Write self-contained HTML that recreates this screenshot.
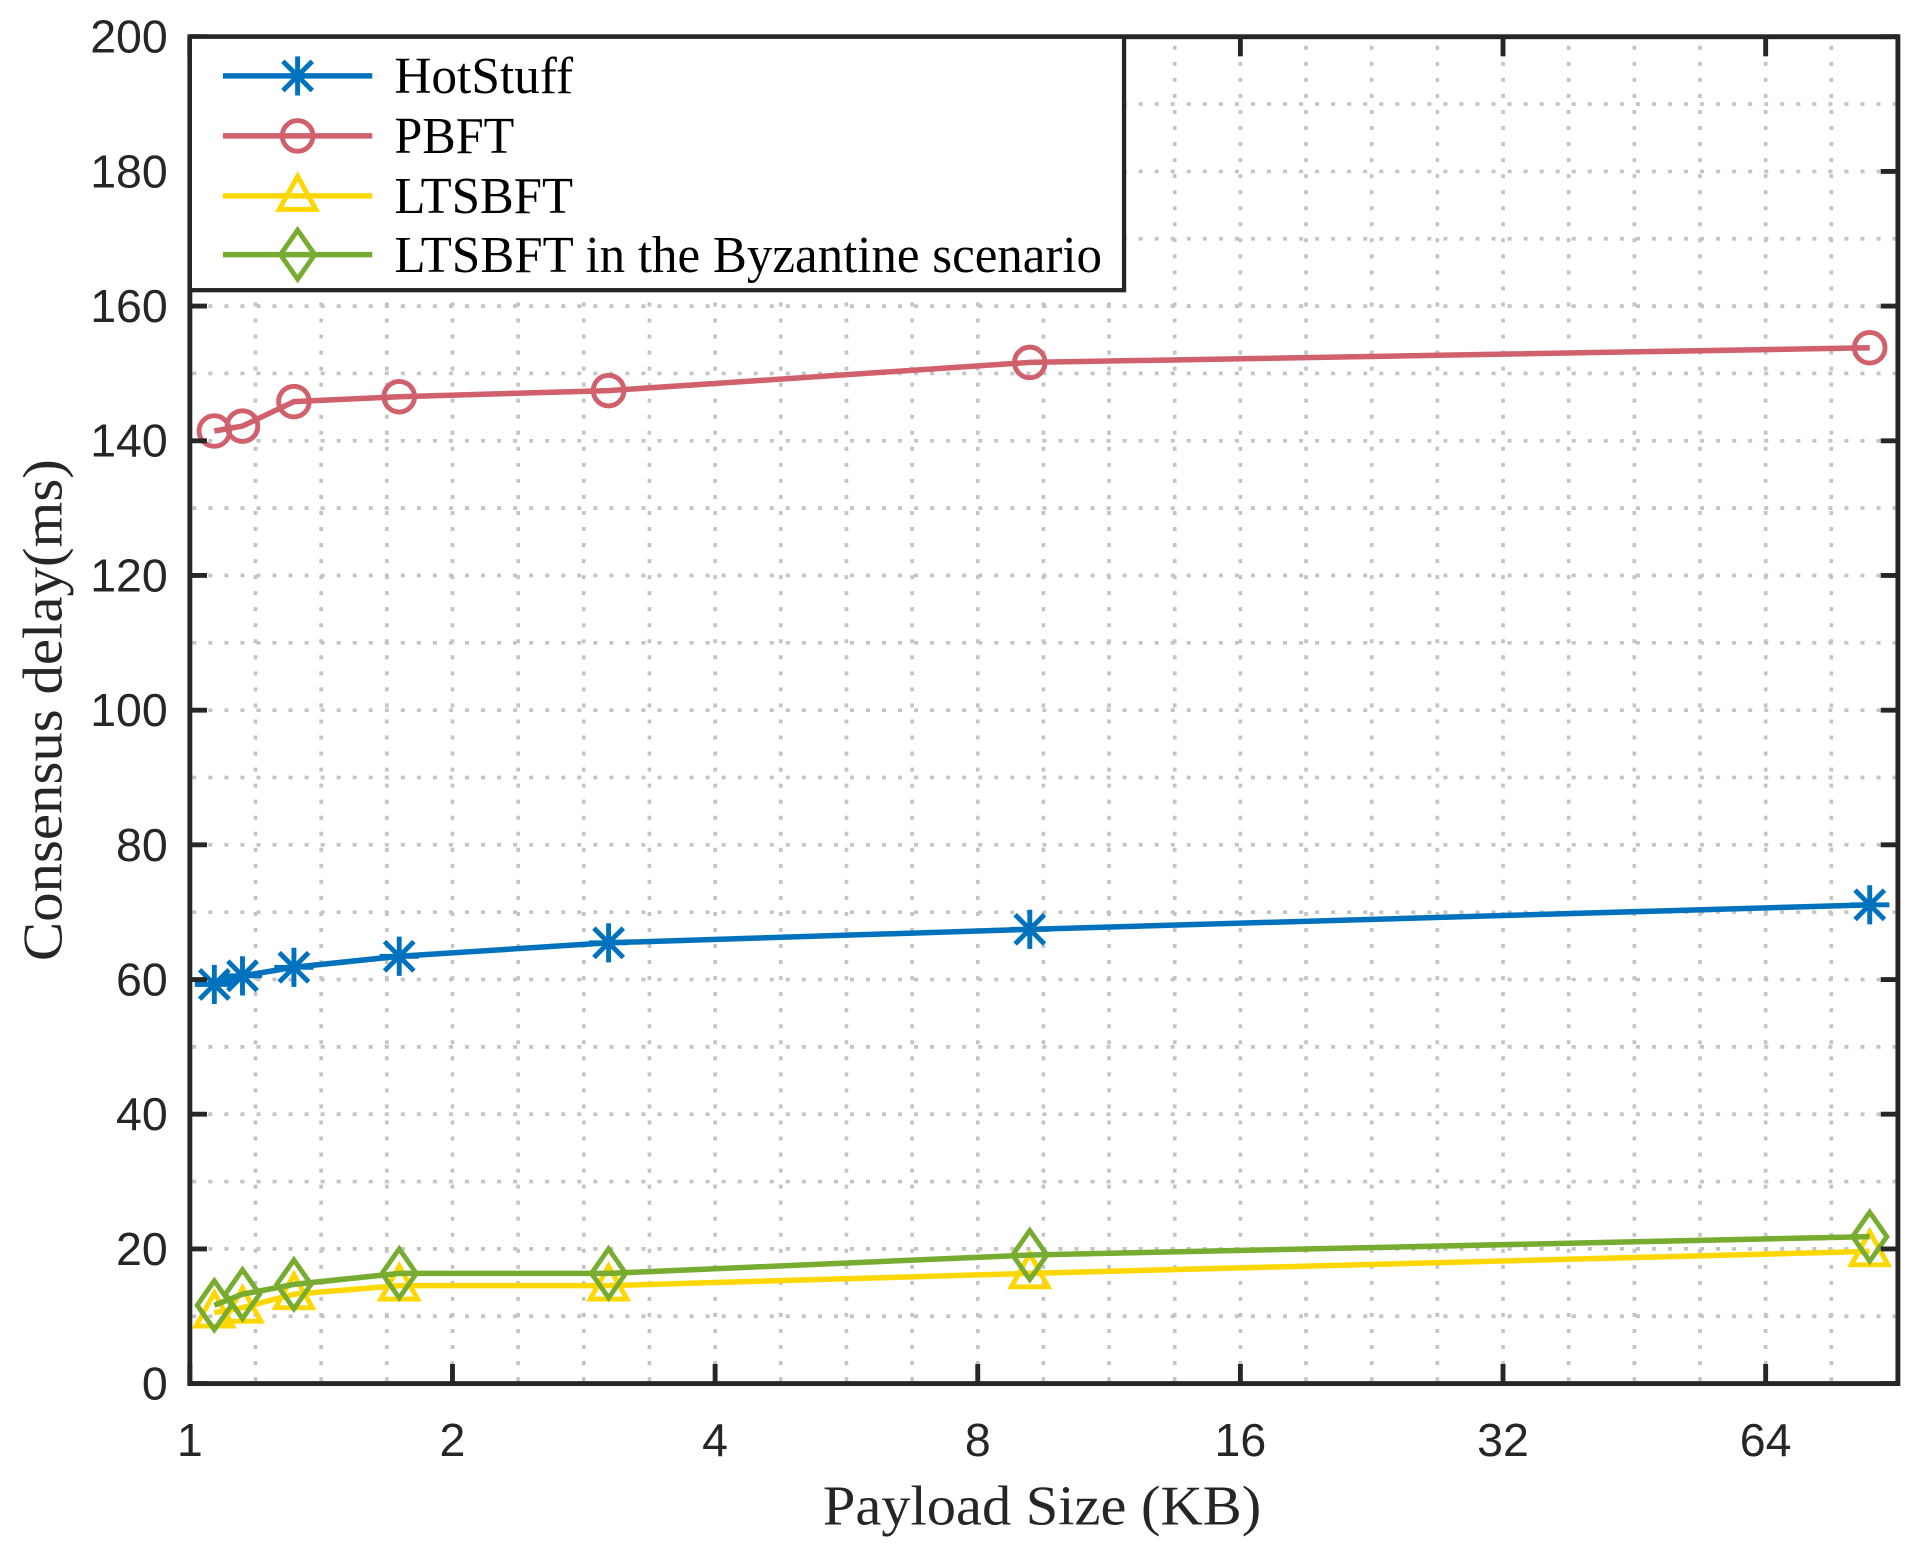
<!DOCTYPE html>
<html><head><meta charset="utf-8"><style>html,body{margin:0;padding:0;background:#fff}svg{display:block}</style></head>
<body>
<svg width="1920" height="1555" viewBox="0 0 1568 1270" xmlns="http://www.w3.org/2000/svg">
<rect width="1568" height="1270" fill="#fff"/>
<g id="grid" stroke="#c4c4c4" stroke-width="3" stroke-dasharray="3.3 9.8" fill="none"></g>
<g id="series"></g>
<rect x="155" y="30" width="1395" height="1100" fill="none" stroke="#262626" stroke-width="4"/>
<g id="ticks" stroke="#262626" stroke-width="4"></g>
<g font-family="'Liberation Sans', Arial, sans-serif" font-size="38" fill="#262626" id="ylab" text-anchor="end"></g>
<g font-family="'Liberation Sans', Arial, sans-serif" font-size="38" fill="#262626" id="xlab" text-anchor="middle"></g>
<text x="851" y="1245" font-family="'Liberation Serif', serif" font-size="46" fill="#262626" text-anchor="middle" textLength="358" lengthAdjust="spacingAndGlyphs">Payload Size (KB)</text>
<text transform="translate(50,580) rotate(-90)" font-family="'Liberation Serif', serif" font-size="46" fill="#262626" text-anchor="middle" textLength="410" lengthAdjust="spacingAndGlyphs">Consensus delay(ms)</text>
<rect x="155" y="30" width="763" height="207" fill="#fff" stroke="#262626" stroke-width="3.5"/>
<g id="legend"></g>
<script>
const NS="http://www.w3.org/2000/svg";
function el(p,t,a){const e=document.createElementNS(NS,t);for(const k in a)e.setAttribute(k,a[k]);p.appendChild(e);return e;}
const grid=document.getElementById('grid');
for(let i=1;i<20;i++){const y=1130-i*55;el(grid,'line',{x1:157,x2:1548,y1:y,y2:y});}
for(let i=1;i<26;i++){const x=155+i*53.625;el(grid,'line',{x1:x,x2:x,y1:1128,y2:32});}
const ticks=document.getElementById('ticks');
const yl=document.getElementById('ylab');
for(let i=0;i<=10;i++){const y=1130-i*110;
 el(ticks,'line',{x1:155,x2:169,y1:y,y2:y});el(ticks,'line',{x1:1550,x2:1536,y1:y,y2:y});
 const t=el(yl,'text',{x:137,y:y+13});t.textContent=String(i*20);}
const xl=document.getElementById('xlab');
[1,2,4,8,16,32,64].forEach((v,i)=>{const x=155+i*214.5;
 el(ticks,'line',{x1:x,x2:x,y1:1130,y2:1114});el(ticks,'line',{x1:x,x2:x,y1:30,y2:46});
 const t=el(xl,'text',{x:x,y:1189});t.textContent=String(v);});
const X=[175,198,240,326,497,841,1527];
const S=[
 {c:'#0072BD',m:'star',y:[804,797,790,781,770,759,739]},
 {c:'#D0606C',m:'circ',y:[352,348,328,324,319,296,284]},
 {c:'#FFD700',m:'tri',y:[1072,1068,1057,1050,1050,1040,1022]},
 {c:'#77AC30',m:'dia',y:[1066,1057,1049,1040,1040,1025,1010]}];
function marker(p,m,x,y,c){
 const a={fill:'none',stroke:c,'stroke-width':4};
 if(m==='star'){const r=16;el(p,'path',Object.assign({},a,{d:`M${x} ${y-r}V${y+r}M${x-r} ${y}H${x+r}M${x-12} ${y-12}L${x+12} ${y+12}M${x-12} ${y+12}L${x+12} ${y-12}`}));}
 if(m==='circ')el(p,'circle',Object.assign({},a,{cx:x,cy:y,r:12.5}));
 if(m==='tri')el(p,'path',Object.assign({},a,{d:`M${x} ${y-16}L${x+15} ${y+11}H${x-15}Z`}));
 if(m==='dia')el(p,'path',Object.assign({},a,{d:`M${x} ${y-20}L${x+14} ${y}L${x} ${y+20}L${x-14} ${y}Z`}));
}
const sg=document.getElementById('series');
S.forEach(s=>{el(sg,'polyline',{points:X.map((x,i)=>x+','+s.y[i]).join(' '),fill:'none',stroke:s.c,'stroke-width':4.5});
 X.forEach((x,i)=>marker(sg,s.m,x,s.y[i],s.c));});
const lg=document.getElementById('legend');
const names=['HotStuff','PBFT','LTSBFT','LTSBFT in the Byzantine scenario'];
const lens=[146,98,146,578];
[62,111,160,208].forEach((y,i)=>{const s=S[i];
 el(lg,'line',{x1:182,x2:304,y1:y,y2:y,stroke:s.c,'stroke-width':4.5});
 marker(lg,s.m,243,y,s.c);
 const t=el(lg,'text',{x:322,y:y+14,'font-family':"'Liberation Serif', serif",'font-size':42,fill:'#000',textLength:lens[i],lengthAdjust:'spacingAndGlyphs'});t.textContent=names[i];});
</script>
</svg>
</body></html>
